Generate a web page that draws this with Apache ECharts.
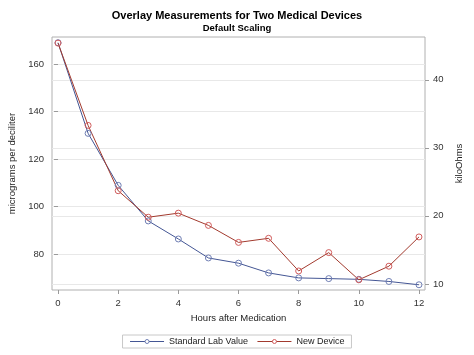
<!DOCTYPE html>
<html><head><meta charset="utf-8">
<script src="https://cdn.jsdelivr.net/npm/echarts@6/dist/echarts.min.js"></script>
<style>html,body{margin:0;padding:0;background:#fff}#c{width:474px;height:355px}</style>
</head><body><div id="c"></div>
<script>
const hours = [0,1,2,3,4,5,6,7,8,9,10,11,12];
const labValues = [169,130.8,108.9,93.9,86.3,78.3,76.1,72.0,69.9,69.6,69.3,68.4,67.0];
const deviceValues = [45.4,33.3,23.7,19.8,20.4,18.6,16.1,16.7,11.9,14.6,10.6,12.6,16.9];
const xTicks = [0,2,4,6,8,10,12];
const leftTicks = [80,100,120,140,160];
const rightTicks = [10,20,30,40];
const seriesNames = ['Standard Lab Value','New Device'];

const FONT = '"Liberation Sans", Arial, sans-serif';
const chart = echarts.init(document.getElementById('c'));
const blueLine = '#445694', redLine = '#A23A2E';
const blueMark = '#6F7EB3', redMark = '#D05B5B';
const gridColor = '#e8e8e8';
const axisCommon = {
  axisLine:{show:false},
  axisTick:{show:true,length:4,lineStyle:{color:'#9a9a9a'}},
  axisLabel:{color:'#333',fontSize:9.5,fontFamily:FONT},
  nameTextStyle:{color:'#222',fontSize:9.5,fontFamily:FONT},
  splitLine:{show:true,lineStyle:{color:gridColor,width:1}}
};
chart.setOption({
  animation:false,
  title:[
    {text:'Overlay Measurements for Two Medical Devices',left:'center',top:5,
     textStyle:{fontSize:11,fontWeight:'bold',color:'#000',fontFamily:FONT}},
    {text:'Default Scaling',left:'center',top:18,
     textStyle:{fontSize:9.5,fontWeight:'bold',color:'#000',fontFamily:FONT}}
  ],
  grid:{left:52,top:37,right:49,bottom:65,show:true,borderColor:'#b0b0b0',borderWidth:1,
    outerBoundsMode:'none',containLabel:false},
  legend:{bottom:7,left:'center',itemWidth:34,itemHeight:5,itemGap:9,
    padding:[2,7,2,7],borderColor:'#c8c8c8',borderWidth:1,
    textStyle:{fontSize:9,color:'#222',fontFamily:FONT},
    data:[
      {name:seriesNames[0],itemStyle:{color:'#fff',borderColor:blueMark,borderWidth:1},lineStyle:{color:blueLine,width:1}},
      {name:seriesNames[1],itemStyle:{color:'#fff',borderColor:redMark,borderWidth:1},lineStyle:{color:redLine,width:1}}
    ]},
  xAxis:{type:'value',min:-0.2,max:12.2,name:'Hours after Medication',nameLocation:'middle',nameGap:22,
    ...axisCommon,
    splitLine:{show:false},
    axisTick:{show:true,length:4,lineStyle:{color:'#9a9a9a'},customValues:xTicks},
    axisLabel:{...axisCommon.axisLabel,customValues:xTicks,margin:8}},
  yAxis:[
    {type:'value',position:'left',min:64.8,max:171.4,name:'micrograms per deciliter',nameLocation:'middle',nameGap:27,
      ...axisCommon,
      axisTick:{...axisCommon.axisTick,customValues:leftTicks},
      axisLabel:{...axisCommon.axisLabel,customValues:leftTicks}},
    {type:'value',position:'right',min:9.1,max:46.3,name:'kiloOhms',nameLocation:'middle',nameGap:27,
      ...axisCommon,
      axisTick:{...axisCommon.axisTick,customValues:rightTicks},
      axisLabel:{...axisCommon.axisLabel,customValues:rightTicks}}
  ],
  series:[
    {name:seriesNames[0],type:'line',yAxisIndex:0,
      data:hours.map((h,i)=>[h,labValues[i]]),
      symbol:'circle',symbolSize:6,
      color:blueLine,
      lineStyle:{color:blueLine,width:1},
      itemStyle:{color:'rgba(255,255,255,0)',borderColor:blueMark,borderWidth:1}},
    {name:seriesNames[1],type:'line',yAxisIndex:1,
      data:hours.map((h,i)=>[h,deviceValues[i]]),
      symbol:'circle',symbolSize:6,
      color:redLine,
      lineStyle:{color:redLine,width:1},
      itemStyle:{color:'rgba(255,255,255,0)',borderColor:redMark,borderWidth:1}}
  ]
});
</script></body></html>
